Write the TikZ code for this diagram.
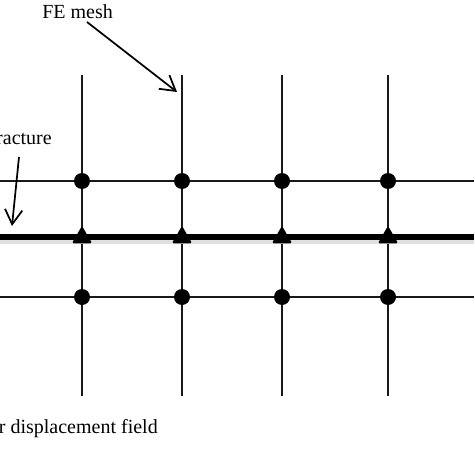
\documentclass[tikz,border=0pt]{standalone}
\usepackage{fontspec}
\setmainfont{Liberation Serif}
\usetikzlibrary{arrows.meta,shapes.geometric}
\begin{document}
\begin{tikzpicture}[x=0.75pt,y=-0.75pt,
  gridline/.style={line width=1.6pt,black!90},
  crackline/.style={line width=3.8pt,black},
  dofcircle/.style={circle,fill=black,inner sep=0pt,minimum size=12pt},
  doftri/.style={regular polygon,regular polygon sides=3,fill=black,inner sep=0pt,minimum size=17.5pt,rounded corners=1.2pt},
  label/.style={inner sep=0pt,font=\fontsize{15}{18}\selectfont},
  pointer/.style={line width=1.3pt,-{Straight Barb[length=11pt,width=13pt,line width=1.3pt]}}]
\useasboundingbox (0,0) rectangle (474,474);
% vertical lines
\foreach \i/\x in {1/82,2/182,3/282,4/388}{
  \coordinate (vt\i) at (\x,75);
  \coordinate (vb\i) at (\x,396);
  \draw[gridline] (vt\i) -- (vb\i);
}
% horizontal lines
\coordinate (h1l) at (0,181); \coordinate (h1r) at (474,181);
\coordinate (h3l) at (0,297); \coordinate (h3r) at (474,297);
\coordinate (h2l) at (0,237); \coordinate (h2r) at (474,237);
\coordinate (s2l) at (0,241.5); \coordinate (s2r) at (474,241.5);
\draw[gridline] (h1l) -- (h1r);
\draw[gridline] (h3l) -- (h3r);
\draw[line width=3pt,black!12] (s2l) -- (s2r);
\draw[crackline] (h2l) -- (h2r);
% nodes
\foreach \i/\x in {1/82,2/182,3/282,4/388}{
  \node[dofcircle] (ct\i) at (\x,181) {};
  \node[dofcircle] (cb\i) at (\x,297) {};
  \node[doftri] (tr\i) at (\x,237.5) {};
}
% labels
\node[label,anchor=base west] (fe) at (42,19) {FE mesh};
\node[label,anchor=base east] (fr) at (52,145) {racture};
\node[label,anchor=base east] (df) at (158,433) {r displacement field};
% arrows
\coordinate (fes) at (87,22);
\coordinate (fee) at (177,92);
\coordinate (frs) at (19,157);
\coordinate (fre) at (12,226);
\draw[pointer] (fes) -- (fee);
\draw[pointer] (frs) -- (fre);
\end{tikzpicture}
\end{document}
